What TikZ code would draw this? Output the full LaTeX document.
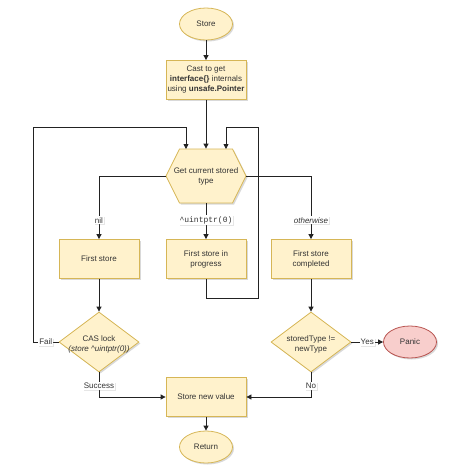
\documentclass[tikz,border=0pt]{standalone}
\usepackage{fontspec}
\setmainfont{Liberation Sans}
\setmonofont{Liberation Mono}
\usetikzlibrary{shapes.geometric,arrows.meta,shadows}
\definecolor{yfill}{HTML}{FFF2CC}
\definecolor{ydraw}{HTML}{D6B656}
\definecolor{rfill}{HTML}{F8CECC}
\definecolor{rdraw}{HTML}{B85450}
\definecolor{lcol}{HTML}{222222}
\definecolor{tcol}{HTML}{333333}
\tikzset{
  shad/.style={drop shadow={opacity=0.25,shadow xshift=1.5pt,shadow yshift=-1.5pt,fill=black!60}},
  base/.style={font=\fontsize{8}{10}\selectfont,text=tcol,align=center,inner sep=0pt,line width=0.8pt},
  ybox/.style={base,rectangle,draw=ydraw,fill=yfill,minimum width=80pt,minimum height=39pt,shad},
  yell/.style={base,ellipse,draw=ydraw,fill=yfill,minimum width=53pt,minimum height=32pt,shad},
  rell/.style={base,ellipse,draw=rdraw,fill=rfill,minimum width=53pt,minimum height=32pt,shad},
  ydia/.style={base,diamond,draw=ydraw,fill=yfill,minimum width=80pt,minimum height=60pt,shad},
  txt/.style={base},
  lbl/.style={font=\fontsize{8}{10}\selectfont,text=tcol,fill=white,inner sep=1pt,drop shadow={opacity=0.2,shadow xshift=1pt,shadow yshift=-1pt}},
  conn/.style={draw=lcol,line width=0.8pt,-{Triangle[length=5pt,width=5pt]}},
}
\begin{document}
\begin{tikzpicture}[x=1pt,y=-1pt]
\useasboundingbox (0,0) rectangle (474,464);
% nodes
\node[yell] (store) at (206,24) {Store};
\node[ybox] (cast) at (206,80) {Cast to get\\\textbf{interface\{\}} internals\\using \textbf{unsafe.Pointer}};
% hexagon
\path[draw=ydraw,fill=yfill,line width=0.8pt,shad] (166,176) -- (179.5,149) -- (232.5,149) -- (246,176) -- (232.5,203) -- (179.5,203) -- cycle;
\node[txt,minimum width=80pt,minimum height=54pt] (hex) at (206,176) {Get current stored\\type};
\node[ybox] (fs1) at (99,259) {First store};
\node[ybox] (fs2) at (206,259) {First store in\\progress};
\node[ybox] (fs3) at (311,259) {First store\\completed};
\node[ydia] (cas) at (99,342) {};
\node[txt] (castxt) at (99,344) {CAS lock\\\textit{(store \^{}uintptr(0))}};
\node[ydia] (st) at (311,342) {};
\node[txt] (sttxt) at (311,344) {storedType !=\\newType};
\node[rell] (panic) at (410,342) {Panic};
\node[ybox] (snv) at (206,397) {Store new value};
\node[yell] (ret) at (206,447) {Return};
% coordinates for loops
\coordinate (hl) at (186,149);
\coordinate (hr) at (226,149);
% edges
\draw[conn] (store) -- (cast);
\draw[conn] (cast) -- (hex);
\draw[conn] (hex.west) -| node[lbl,pos=0.85] (lnil) {nil} (fs1.north);
\draw[conn] (hex.south) -- node[lbl,pos=0.47] (lptr) {\ttfamily\^{}uintptr(0)} (fs2.north);
\draw[conn] (hex.east) -| node[lbl,pos=0.85] (loth) {\itshape otherwise} (fs3.north);
\draw[conn] (fs1) -- (cas);
\draw[conn] (fs3) -- (st);
\draw[conn] (fs2.south) |- (258,298) |- (226,127) -- (hr);
\draw[conn] (cas.west) -- node[lbl] (lfail) {Fail} (33,342) |- (186,127) -- (hl);
\draw[conn] (cas.south) |- node[lbl,pos=0.28] (lsucc) {Success} (snv.west);
\draw[conn] (st.east) -- node[lbl] (lyes) {Yes} (panic.west);
\draw[conn] (st.south) |- node[lbl,pos=0.28] (lno) {No} (snv.east);
\draw[conn] (snv) -- (ret);
\end{tikzpicture}
\end{document}
